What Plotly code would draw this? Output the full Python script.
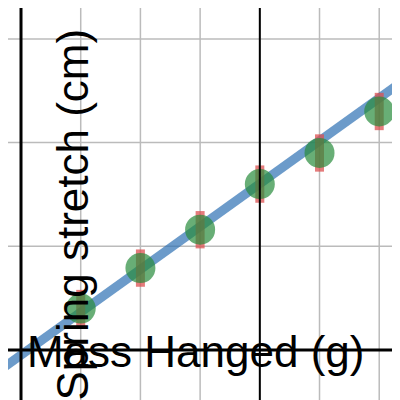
import plotly.graph_objects as go

mass = [1, 2, 3, 4, 5, 6]
stretch = [0.40, 0.79, 1.16, 1.60, 1.90, 2.30]
err = [0.18, 0.18, 0.18, 0.18, 0.18, 0.18]
slope, intercept = 0.413, -0.048
fit_x = [-0.5, 6.6]
fit_y = [intercept + slope * v for v in fit_x]

fig = go.Figure()
fig.add_scatter(x=fit_x, y=fit_y, mode="lines",
                line=dict(color="rgba(45,112,179,0.7)", width=9))
fig.add_scatter(x=mass, y=stretch, mode="markers",
                marker=dict(size=30, color="rgba(40,140,60,0.7)", line=dict(width=0)),
                error_y=dict(type="data", array=err, thickness=9, width=0,
                             color="rgba(220,80,80,0.75)"))

for gx in range(0, 7):
    fig.add_vline(x=gx, line=dict(color="#bbbbbb", width=1.5), layer="below")
for gy in range(0, 4):
    fig.add_hline(y=gy, line=dict(color="#bbbbbb", width=1.5), layer="below")
fig.add_vline(x=0, line=dict(color="black", width=3))
fig.add_vline(x=4, line=dict(color="black", width=2))
fig.add_hline(y=0, line=dict(color="black", width=3))

fig.add_annotation(x=0.4675, y=0.075, xref="paper", yref="paper", text="Mass Hanged (g)",
                   showarrow=False, font=dict(size=44, color="black", family="Liberation Sans"))
fig.add_annotation(x=0.0925, y=0.4825, xref="paper", yref="paper", text="Spring stretch (cm)",
                   textangle=-90, showarrow=False,
                   font=dict(size=44, color="black", family="Liberation Sans"))

fig.update_layout(width=400, height=400, margin=dict(l=0, r=0, t=0, b=0),
                  plot_bgcolor="white", paper_bgcolor="white", showlegend=False)
fig.update_xaxes(range=[-0.218, 6.482], showgrid=False, zeroline=False, showticklabels=False)
fig.update_yaxes(range=[-0.559, 3.298], showgrid=False, zeroline=False, showticklabels=False)
fig.write_html("out.html")
